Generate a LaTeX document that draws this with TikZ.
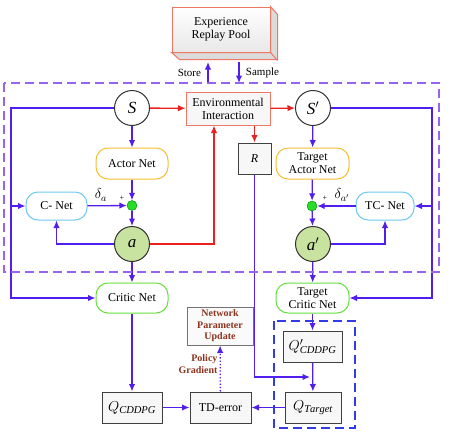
\documentclass[tikz,border=0pt]{standalone}
\usepackage{fontspec}
\setmainfont{Liberation Serif}
\usetikzlibrary{arrows.meta,positioning}
\definecolor{flow}{RGB}{82,30,238}
\definecolor{envred}{RGB}{238,120,100}
\definecolor{hotred}{RGB}{236,32,32}
\definecolor{actoryel}{RGB}{246,190,50}
\definecolor{cnetblue}{RGB}{110,200,240}
\definecolor{criticgrn}{RGB}{100,225,60}
\definecolor{dotgrn}{RGB}{40,220,40}
\definecolor{agrn}{RGB}{200,226,160}
\definecolor{outerdash}{RGB}{150,100,240}
\definecolor{innerdash}{RGB}{50,60,230}
\definecolor{brownred}{RGB}{140,50,30}

\begin{document}
\begin{tikzpicture}[x=1pt,y=-1pt,>={Latex[length=7.5pt,width=6.5pt]},font=\fontsize{12}{13}\selectfont,
  bl/.style={draw=flow,line width=1.3pt},
  rd/.style={draw=hotred,line width=1.3pt},
  net/.style={draw,line width=1pt,rounded corners=12pt,fill=white,inner sep=0pt,align=center},
  qbox/.style={draw=black!75,line width=1pt,fill=gray!6,inner sep=0pt,align=center},
  state/.style={circle,draw=black!80,line width=1pt,fill=white,minimum size=35pt,inner sep=0pt,font=\fontsize{17}{17}\selectfont\itshape},
  sumdot/.style={circle,fill=dotgrn,draw=green!50!black,line width=0.4pt,minimum size=10pt,inner sep=0pt}]
\useasboundingbox (0,0) rectangle (474,432);

% replay pool
\node[draw=envred,line width=1pt,top color=white,bottom color=gray!18,minimum width=98pt,minimum height=45pt,inner sep=0pt,align=center] (pool) at (221,29.5) {Experience\\Replay Pool};
\filldraw[draw=envred,fill=gray!28,line width=1pt] (pool.north east) -- ++(7,8) -- ++(0,45) -- ++(-98,0) -- (pool.south west) -- (pool.south east) -- cycle;
\draw[draw=envred,line width=1pt] (pool.south east) -- ++(7,8);
\coordinate (st) at (208,83); \coordinate (stp) at (208,62);
\coordinate (sa) at (239,83); \coordinate (sap) at (239,62);
\draw[bl,->] (st) -- (stp) node[midway,left=3pt,text=black,font=\fontsize{11}{11}\selectfont] {Store};
\draw[bl,->] (sap) -- (sa) node[midway,right=3pt,text=black,font=\fontsize{11}{11}\selectfont] {Sample};

% actor side
\node[state] (s) at (132,108) {S};
\node[draw=envred,line width=1pt,fill=gray!6,minimum width=84pt,minimum height=33pt,inner sep=0pt,align=center] (env) at (228,108.5) {Environmental\\Interaction};
\node[state] (sp) at (313,108) {S$'$};
\node[qbox,minimum width=33pt,minimum height=31pt] (r) at (254.5,158.5) {\textit{R}};
\node[net,draw=actoryel,minimum width=72pt,minimum height=31pt] (actor) at (132,163.5) {Actor Net};
\node[sumdot] (dot) at (132,205.5) {};
\node[net,draw=cnetblue,minimum width=61pt,minimum height=28pt] (cnet) at (56.5,206) {C- Net};
\node[state,fill=agrn] (a) at (132,244) {a};
\node[net,draw=criticgrn,minimum width=72pt,minimum height=30pt] (critic) at (132,298) {Critic Net};
\node[qbox,minimum width=60pt,minimum height=31pt,font=\fontsize{15}{15}\selectfont] (qc) at (132,407.5) {$Q_{\mathit{CDDPG}}$};
\node[qbox,minimum width=61pt,minimum height=31pt] (td) at (220.5,407.5) {TD-error};
\node[draw=black!55,line width=1pt,fill=gray!4,minimum width=66pt,minimum height=38pt,inner sep=0pt,align=center,text=brownred,font=\fontsize{10}{11.5}\selectfont\bfseries] (npu) at (220,326) {Network\\Parameter\\Update};
\node[text=brownred,align=right,font=\fontsize{10}{12}\selectfont\bfseries] (pg) at (198,364) {Policy\\Gradient};
\node[font=\fontsize{14}{14}\selectfont] (da) at (101,195) {$\delta_a$};
\node[font=\fontsize{8}{8}\selectfont] (pa) at (122,198) {+};

% target side
\node[net,draw=actoryel,minimum width=73pt,minimum height=31pt] (tactor) at (312.5,163.5) {Target\\Actor Net};
\node[sumdot] (tdot) at (312,206) {};
\node[net,draw=cnetblue,minimum width=58pt,minimum height=28pt] (tcnet) at (385,206) {TC- Net};
\node[state,fill=agrn] (ap) at (313,244) {a$'$};
\node[net,draw=criticgrn,minimum width=73pt,minimum height=30pt] (tcritic) at (312.5,298) {Target\\Critic Net};
\node[qbox,minimum width=59pt,minimum height=31pt,font=\fontsize{15}{15}\selectfont] (qp) at (312.5,346.5) {$Q'_{\mathit{CDDPG}}$};
\node[qbox,minimum width=56pt,minimum height=31pt,font=\fontsize{15}{15}\selectfont] (qt) at (313,407.5) {$Q_{\mathit{Target}}$};
\node[font=\fontsize{14}{14}\selectfont] (tda) at (342,195) {$\delta_{a'}$};
\node[font=\fontsize{8}{8}\selectfont] (tpa) at (325,198) {+};

% red flow
\coordinate (envin) at (214,0);
\draw[rd,->] (s) -- (env); \draw[rd,->] (env) -- (sp);
\draw[rd,->] (env.south -| r.north) -- (r.north);
\draw[rd,->] (a.east) -| (envin |- env.south);

% blue flow
\coordinate (lwall) at (11,298); \coordinate (rwall) at (432,298);
\coordinate (rq) at (310,377);
\draw[bl,->] (s) -- (actor); \draw[bl,->] (actor) -- (dot); \draw[bl,->] (cnet) -- (dot);
\draw[bl,->] (dot) -- (a); \draw[bl,->] (a.west) -| (cnet.south);
\draw[bl,->] (s.west) -| (lwall) -- (critic.west); \draw[bl,->] (lwall |- cnet) -- (cnet.west);
\draw[bl,->] (a) -- (critic); \draw[bl,->] (critic) -- (qc); \draw[bl,->] (qc) -- (td);
\draw[bl,->] (sp) -- (tactor); \draw[bl,->] (tactor) -- (tdot); \draw[bl,->] (tcnet) -- (tdot);
\draw[bl,->] (tdot) -- (ap); \draw[bl,->] (ap.east) -| (tcnet.south);
\draw[bl,->] (sp.east) -| (rwall) -- (tcritic.east); \draw[bl,->] (rwall |- tcnet) -- (tcnet.east);
\draw[bl,->] (ap) -- (tcritic); \draw[bl,->] (tcritic) -- (qp); \draw[bl,->] (qp) -- (qt);
\draw[bl,->] (r) |- (rq);
\draw[bl,->] (qt) -- (td);
\draw[bl,->,dotted] (td) -- (npu);

% dashed frames
\draw[outerdash,line width=1.2pt,dash pattern=on 9pt off 5pt] (4,83) rectangle (439,272);
\draw[innerdash,line width=1.2pt,dash pattern=on 9pt off 5pt] (274,321) rectangle (355,428);
\end{tikzpicture}
\end{document}
